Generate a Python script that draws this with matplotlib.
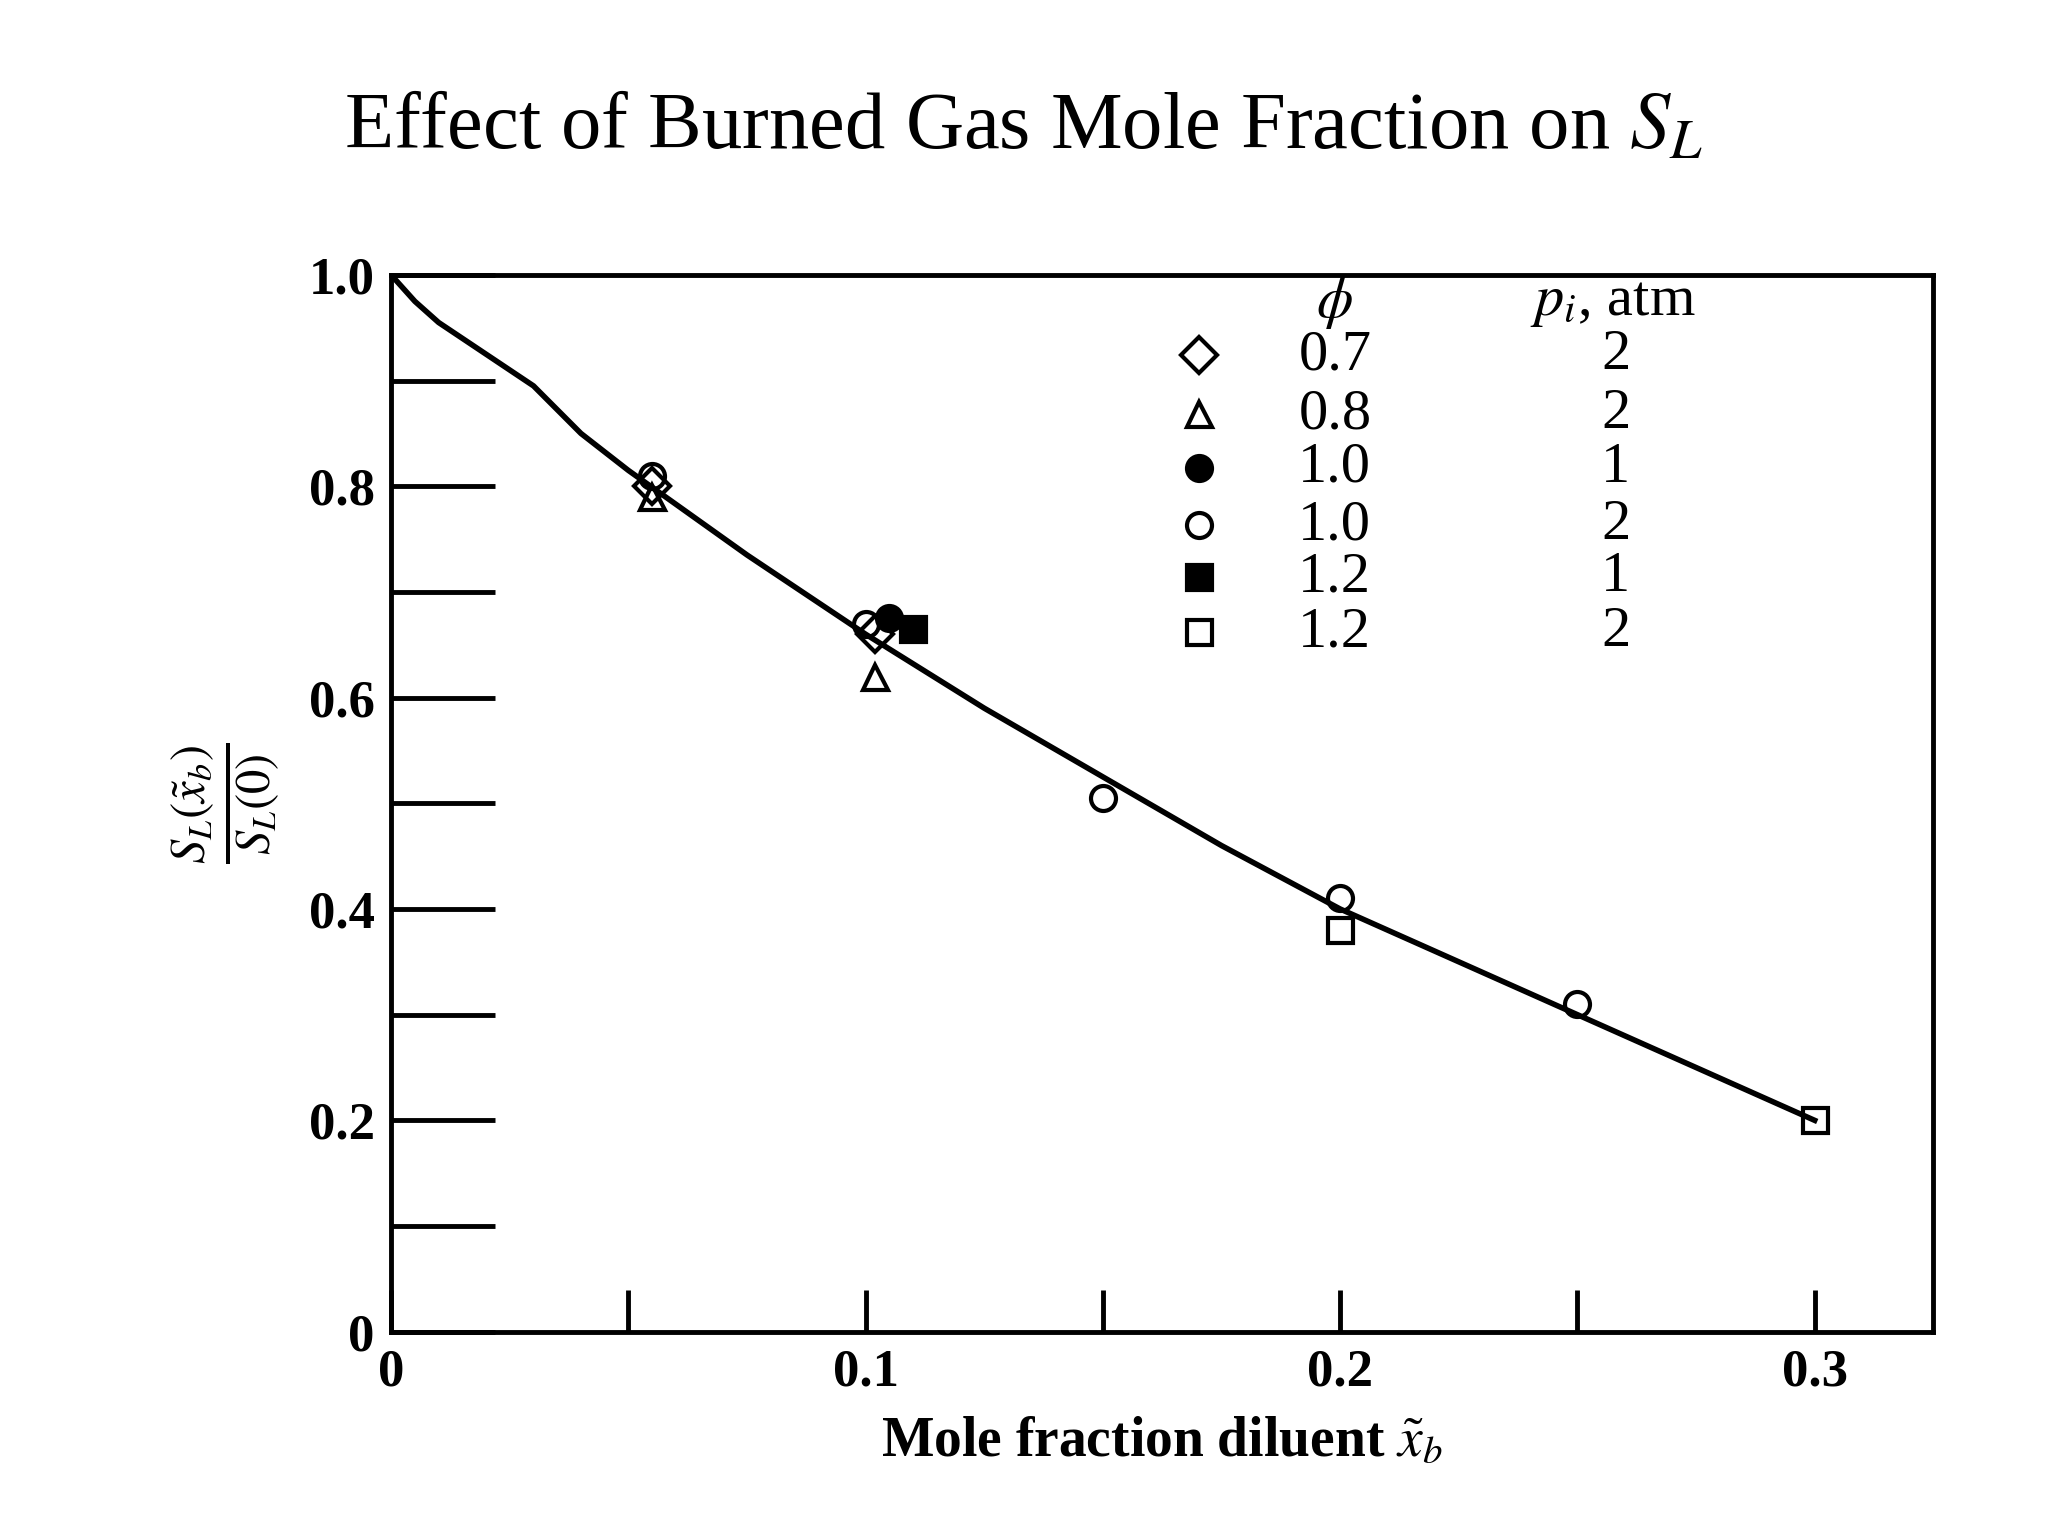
import matplotlib
matplotlib.use("Agg")
import matplotlib.pyplot as plt
from matplotlib.lines import Line2D

plt.rcParams['font.family'] = ['Liberation Serif', 'DejaVu Serif']
plt.rcParams['mathtext.fontset'] = 'stix'

# fitted curve
curve_x = [0.0, 0.005, 0.01, 0.015, 0.02, 0.03, 0.04, 0.05, 0.075, 0.1, 0.125, 0.15, 0.175, 0.2, 0.225, 0.25, 0.275, 0.3]
curve_y = [1.0, 0.975, 0.955, 0.94, 0.925, 0.895, 0.85, 0.815, 0.735, 0.66, 0.59, 0.525, 0.46, 0.40, 0.35, 0.30, 0.25, 0.20]

# data series
diam_x = [0.055, 0.102]; diam_y = [0.80, 0.66]
tri_x = [0.055, 0.102]; tri_y = [0.79, 0.62]
fcirc_x = [0.105]; fcirc_y = [0.675]
ocirc_x = [0.055, 0.10, 0.15, 0.20, 0.25]; ocirc_y = [0.81, 0.67, 0.505, 0.41, 0.31]
fsq_x = [0.11]; fsq_y = [0.665]
osq_x = [0.20, 0.30]; osq_y = [0.38, 0.20]

legend_phi = ['0.7', '0.8', '1.0', '1.0', '1.2', '1.2']
legend_p = ['2', '2', '1', '2', '1', '2']

fig = plt.figure(figsize=(20.48, 15.36), dpi=100)
ax = fig.add_axes([0.191, 0.133, 0.753, 0.688])
ax.plot(curve_x, curve_y, color='black', lw=4)
ms = 18
kw = dict(color='black', ls='none', markersize=ms, mew=3)
ax.plot(diam_x, diam_y, marker='D', mfc='none', **kw)
ax.plot(tri_x, tri_y, marker='^', mfc='none', **kw)
ax.plot(ocirc_x, ocirc_y, marker='o', mfc='none', **kw)
ax.plot(osq_x, osq_y, marker='s', mfc='none', **kw)
ax.plot(fcirc_x, fcirc_y, marker='o', mfc='black', **kw)
ax.plot(fsq_x, fsq_y, marker='s', mfc='black', **kw)

ax.set_xlim(0, 0.325)
ax.set_ylim(0, 1.0)
ax.set_xticks([0, 0.1, 0.2, 0.3])
ax.set_xticklabels(['0', '0.1', '0.2', '0.3'])
ax.set_xticks([0.05, 0.15, 0.25], minor=True)
ax.set_yticks([0, 0.2, 0.4, 0.6, 0.8, 1.0])
ax.set_yticklabels(['0', '0.2', '0.4', '0.6', '0.8', '1.0'])
ax.set_yticks([0.1, 0.3, 0.5, 0.7, 0.9], minor=True)
ax.tick_params(axis='y', which='both', direction='in', length=75, width=3.5, labelsize=38, pad=12)
ax.tick_params(axis='x', which='both', direction='in', length=30, width=3.5, labelsize=38, pad=12)
for s in ax.spines.values():
    s.set_linewidth(3.5)
for t in ax.get_xticklabels() + ax.get_yticklabels():
    t.set_fontweight('bold')

ax.set_xlabel(r'Mole fraction diluent $\tilde{x}_b$', fontsize=40, fontweight='bold', labelpad=14)
ax.set_ylabel(r'$\frac{S_L(\tilde{x}_b)}{S_L(0)}$', fontsize=50, labelpad=20)

fig.suptitle(r'Effect of Burned Gas Mole Fraction on $S_L$', fontsize=58, y=0.94)

# legend table
W, H = 1568, 1176
def fx(px): return px / W
def fy(py): return 1 - py / H
fig.text(fx(1022), fy(232), r'$\phi$', fontsize=42, ha='center', va='center')
fig.text(fx(1235), fy(232), r'$p_i$, atm', fontsize=42, ha='center', va='center')
rows_y = [272, 317, 358, 402, 442, 484]
marks = [('D', 'none'), ('^', 'none'), ('o', 'black'), ('o', 'none'), ('s', 'black'), ('s', 'none')]
for (m, fc), py, ph, pp in zip(marks, rows_y, legend_phi, legend_p):
    fig.add_artist(Line2D([fx(918)], [fy(py)], marker=m, mfc=fc, mec='black',
                          markersize=ms, mew=3, color='black', transform=fig.transFigure))
    fig.text(fx(1022), fy(py), ph, fontsize=42, ha='center', va='center')
    fig.text(fx(1237), fy(py), pp, fontsize=42, ha='center', va='center')

fig.savefig('out.png', dpi=100)
